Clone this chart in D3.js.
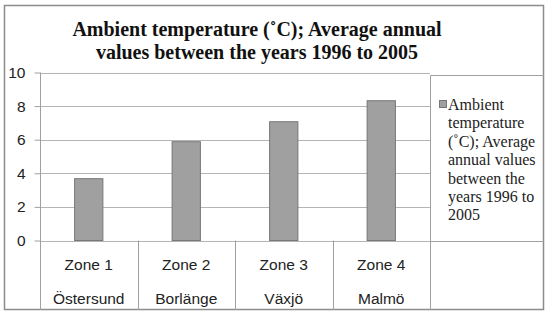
<!DOCTYPE html>
<html><head><meta charset="utf-8">
<script src="https://cdn.jsdelivr.net/npm/d3@7"></script>
<style>body{margin:0;background:#fff}svg{display:block}</style>
</head><body>
<script>
const categories = ["Zone 1", "Zone 2", "Zone 3", "Zone 4"];
const cities = ["Östersund", "Borlänge", "Växjö", "Malmö"];
const values = [3.68, 5.88, 7.07, 8.32];
const yTicks = [0, 2, 4, 6, 8, 10];
const titleLines = ["Ambient temperature (˚C); Average annual", "values between the years 1996 to 2005"];
const legendLines = ["Ambient", "temperature", "(˚C); Average", "annual values", "between the", "years 1996 to", "2005"];

const W = 550, H = 311;
const svg = d3.select("body").append("svg").attr("width", W).attr("height", H);

// outer frame
svg.append("rect").attr("x", 4.5).attr("y", 5.5).attr("width", 539).attr("height", 304)
  .attr("fill", "#fff").attr("stroke", "#8c8c8c").attr("stroke-width", 1.5);

const x = d3.scaleBand().domain(categories).range([40, 430]).paddingInner(0).paddingOuter(0);
const y = d3.scaleLinear().domain([0, 10]).range([240.5, 72.5]);

// gridlines
svg.append("g").selectAll("line").data(yTicks).join("line")
  .attr("x1", 40).attr("x2", 430)
  .attr("y1", d => Math.round(y(d)) + 0.5).attr("y2", d => Math.round(y(d)) + 0.5)
  .attr("stroke", "#b4b4b4").attr("stroke-width", 1);

// y axis
const yAxis = d3.axisLeft(y).tickValues(yTicks).tickSize(6).tickPadding(9).tickFormat(d3.format("d"));
const gy = svg.append("g").attr("transform", "translate(40.5,0)").call(yAxis);
gy.select(".domain").attr("stroke", "#a0a0a0").attr("d", "M0," + y(10) + "V310");
gy.selectAll(".tick line").attr("stroke", "#a0a0a0");
gy.selectAll(".tick text").attr("font-family", "Liberation Sans, Arial, sans-serif")
  .attr("font-size", 15.5).attr("fill", "#222");

// bars
const bw = x.bandwidth() * 0.29;
svg.append("g").selectAll("rect").data(values).join("rect")
  .attr("x", (d, i) => x(categories[i]) + x.bandwidth() / 2 - bw / 2)
  .attr("y", d => y(d))
  .attr("width", bw)
  .attr("height", d => y(0) - y(d))
  .attr("fill", "#a0a0a0").attr("stroke", "#777").attr("stroke-width", 1);

// category table lines
const bounds = categories.map(c => x(c)).concat([x.range()[1]]);
svg.append("g").selectAll("line").data(bounds.slice(1)).join("line")
  .attr("x1", d => Math.round(d) + 0.5).attr("x2", d => Math.round(d) + 0.5)
  .attr("y1", y(0)).attr("y2", 310)
  .attr("stroke", "#a0a0a0");

// category labels
const gx = svg.append("g").attr("font-family", "Liberation Sans, Arial, sans-serif")
  .attr("font-size", 15.5).attr("fill", "#222").attr("text-anchor", "middle");
gx.selectAll("text.z").data(categories).join("text").attr("class", "z")
  .attr("x", d => x(d) + x.bandwidth() / 2).attr("y", 270).text(d => d);
gx.selectAll("text.c").data(cities).join("text").attr("class", "c")
  .attr("x", (d, i) => x(categories[i]) + x.bandwidth() / 2).attr("y", 304).text(d => d);

// legend box
svg.append("path").attr("d", "M430.5,75.5V241.5H544").attr("fill", "none").attr("stroke", "#a0a0a0");
svg.append("path").attr("d", "M430.5,75.5H544").attr("fill", "none").attr("stroke", "#a0a0a0");
svg.append("rect").attr("x", 439.5).attr("y", 100.5).attr("width", 7).attr("height", 7)
  .attr("fill", "#a0a0a0").attr("stroke", "#777");
svg.append("g").selectAll("text").data(legendLines).join("text")
  .attr("x", 448).attr("y", (d, i) => 110 + i * 18.4)
  .attr("font-family", "Liberation Serif, Times New Roman, serif").attr("font-size", 16)
  .attr("fill", "#222").text(d => d);

// title
svg.append("g").selectAll("text").data(titleLines).join("text")
  .attr("x", 257).attr("y", (d, i) => 36 + i * 23)
  .attr("text-anchor", "middle")
  .attr("font-family", "Liberation Serif, Times New Roman, serif").attr("font-weight", "bold")
  .attr("font-size", 20).attr("fill", "#111").text(d => d);
</script>
</body></html>
